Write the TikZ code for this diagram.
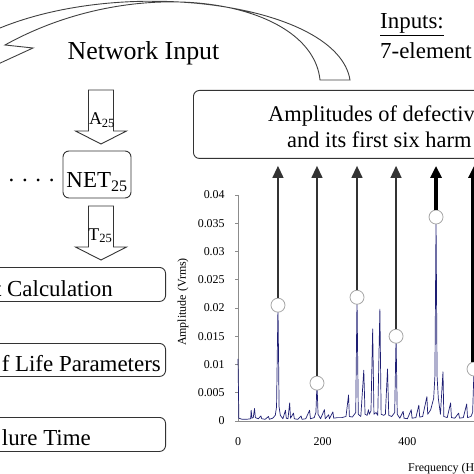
\documentclass[tikz,border=0pt]{standalone}
\usepackage{fontspec}
\setmainfont{Liberation Serif}
\usetikzlibrary{arrows.meta,positioning,calc}
\definecolor{specblue}{RGB}{30,30,115}

\begin{document}
\begin{tikzpicture}[x=1bp,y=-1bp,
stagebox/.style={draw=black!80, line width=0.9bp, rounded corners=6bp, inner sep=0pt},
stagetext/.style={inner sep=0pt, font=\fontsize{23}{26}\selectfont},
blocklabel/.style={inner sep=0pt, font=\fontsize{18}{20}\selectfont},
ticklabel/.style={inner sep=0pt, font=\fontsize{12}{14}\selectfont},
harm/.style={draw=black!80, line width=1.3bp, -{Triangle[length=12bp,width=11bp]}, shorten >=7bp},
hcirc/.style={circle, draw=black!35, fill=white, line width=0.8bp, minimum size=14bp, inner sep=0pt},
downblock/.pic={\draw[black!80, line width=0.9bp, fill=white] (-12.5,0) -- (-12.5,41) -- (-25.5,41)
  -- (0,54) -- (25.5,41) -- (12.5,41) -- (12.5,0) -- cycle;}]
\useasboundingbox (0,0) rectangle (474,474);
\clip (0,0) rectangle (474,474);

% loop back arrow
\draw[black!75, line width=0.9bp, fill=white]
  (350,80) .. controls (338,5) and (130,-25) .. (0,28) -- (-20,20) -- (-28,76) -- (33,48) -- (5,45)
  .. controls (140,-30) and (312,0) .. (320,80) -- cycle;

\node[inner sep=0pt, anchor=base, font=\fontsize{26}{30}\selectfont] (netin) at (143.5,60) {Network Input};
\node[stagetext, anchor=base west] (inputs) at (380,29) {\underline{Inputs:}};
\node[stagetext, anchor=base west] (vec) at (380,59) {7-element};

\node[stagebox, minimum width=507bp, minimum height=68bp, anchor=north west] (amp) at (193,90) {};
\node[stagetext, font=\fontsize{22.5}{26}\selectfont, anchor=base west] (amptop) at (268,122) {Amplitudes of defectiv};
\node[stagetext, font=\fontsize{22.5}{26}\selectfont, anchor=base west] (ampbot) at (287,148) {and its first six harm};

% network column
\pic at (101,90) {downblock};
\node[blocklabel, anchor=base] (alabel) at (102,125) {A\textsubscript{25}};
\node[stagebox, minimum width=68bp, minimum height=47bp] (net) at (97,174.5) {};
\node[stagetext, anchor=base] (netlabel) at (97,188) {NET\textsubscript{25}};
\node[stagetext, anchor=base west] (dots) at (8.5,182) {. . . .};
\pic at (101,206) {downblock};
\node[blocklabel, anchor=base] (tlabel) at (100.5,240) {T\textsubscript{25}};

\node[stagebox, minimum width=316bp, minimum height=34bp, anchor=north east] (calc) at (166,267) {};
\node[stagetext, anchor=base east] (calctext) at (113,296) {t Calculation};
\node[stagebox, minimum width=316bp, minimum height=33bp, anchor=north east] (life) at (166,343) {};
\node[stagetext, anchor=base east] (lifetext) at (161,371) {f Life Parameters};
\node[stagebox, minimum width=316bp, minimum height=34bp, anchor=north east] (fail) at (166,417) {};
\node[stagetext, anchor=base east] (failtext) at (91,445) {lure Time};

% spectrum
\begin{scope}[shift={(238,421)}, x=0.4235bp, y=5.65bp]
\draw[black!45, line width=0.6bp] (0,40) -- (0,0) -- (700,0);
\foreach \v/\t in {0/0,5/0.005,10/0.01,15/0.015,20/0.02,25/0.025,30/0.03,35/0.035,40/0.04}{
  \draw[black!45, line width=0.6bp] (0,\v) -- ++(-8,0);
  \node[ticklabel, anchor=east] at (-31,\v) {\t};}
\foreach \f in {0,200,400}
  \node[ticklabel, anchor=base] at (\f,-4.4) {\f};
\draw[specblue, line width=0.7bp, line join=round] plot coordinates {
(0,11) (2,0.5) (10,0.3) (20,0.3) (30,0.4) (31,1.9) (33,0.5) (36,0.6) (39,2.2) (41,0.6) (48,0.4)
(54,0.9) (56,0.4) (64,0.3) (72,0.8) (74,0.3) (82,0.5) (88,1.0) (91,2.5) (94.4,20.5) (97,2.5)
(100,1.0) (106,0.4) (112,1.9) (114,0.5) (118,0.4) (122,3.2) (124,0.5) (131,1.4) (133,0.4)
(141,0.3) (149,0.9) (151,0.3) (160,0.4) (169,1.9) (171,0.4) (180,0.6) (184,1.5) (186.5,6.7)
(189,1.2) (195,0.4) (204,2.0) (206,0.4) (214,1.1) (216,0.4) (224,1.6) (226,0.5) (235,0.6)
(245,0.6) (255,0.8) (261,4.6) (263,0.8) (270,0.7) (278,1.5) (281,21.9) (284,1.2) (290,0.8)
(297,9.0) (300,1.2) (305,1.0) (308,2.0) (310,1.2) (314,1.8) (318,16.3) (321,1.2) (326,1.5)
(330,1.0) (335,19.8) (338,1.2) (344,1.0) (348,1.2) (353,9.2) (356,1.0) (363,0.8) (370,1.5)
(373.2,15) (376,1.2) (382,0.5) (390,1.7) (392,0.5) (400,0.4) (409,2.0) (411,0.5) (420,0.6)
(427,2.8) (429,0.7) (436,0.8) (446,4.3) (448,1.2) (455,2.0) (462,4.0) (465,8) (467.6,36)
(470,8) (473,4) (478,1.2) (484,8.7) (486,0.8) (494,0.6) (502,3.2) (504,0.6) (512,0.5)
(521,1.4) (523,0.5) (532,0.6) (540,3.0) (542,0.6) (550,0.8) (554,1.5) (557.3,9.2) (560,0.8)
(570,0.5) (600,0.5)};
\node[hcirc] (h1) at (94.4,20.5) {};
\node[hcirc] (h2) at (186.5,6.7) {};
\node[hcirc] (h3) at (281,21.9) {};
\node[hcirc] (h4) at (373.2,15) {};
\node[hcirc] (h5) at (467.6,36.1) {};
\node[hcirc] (h6) at (557.3,9.2) {};
\end{scope}
\node[ticklabel, rotate=90] (ylab) at (183,302) {Amplitude (Vrms)};
\node[ticklabel, anchor=base west] (xlab) at (408,471) {Frequency (Hz)};

\draw[harm] (h1) -- (h1 |- amp.south);
\draw[harm] (h2) -- (h2 |- amp.south);
\draw[harm] (h3) -- (h3 |- amp.south);
\draw[harm] (h4) -- (h4 |- amp.south);
\draw[harm, draw=black, line width=3.5bp] (h5) -- (h5 |- amp.south);
\draw[harm, draw=black, line width=6bp] (h6) -- (h6 |- amp.south);
\end{tikzpicture}
\end{document}
